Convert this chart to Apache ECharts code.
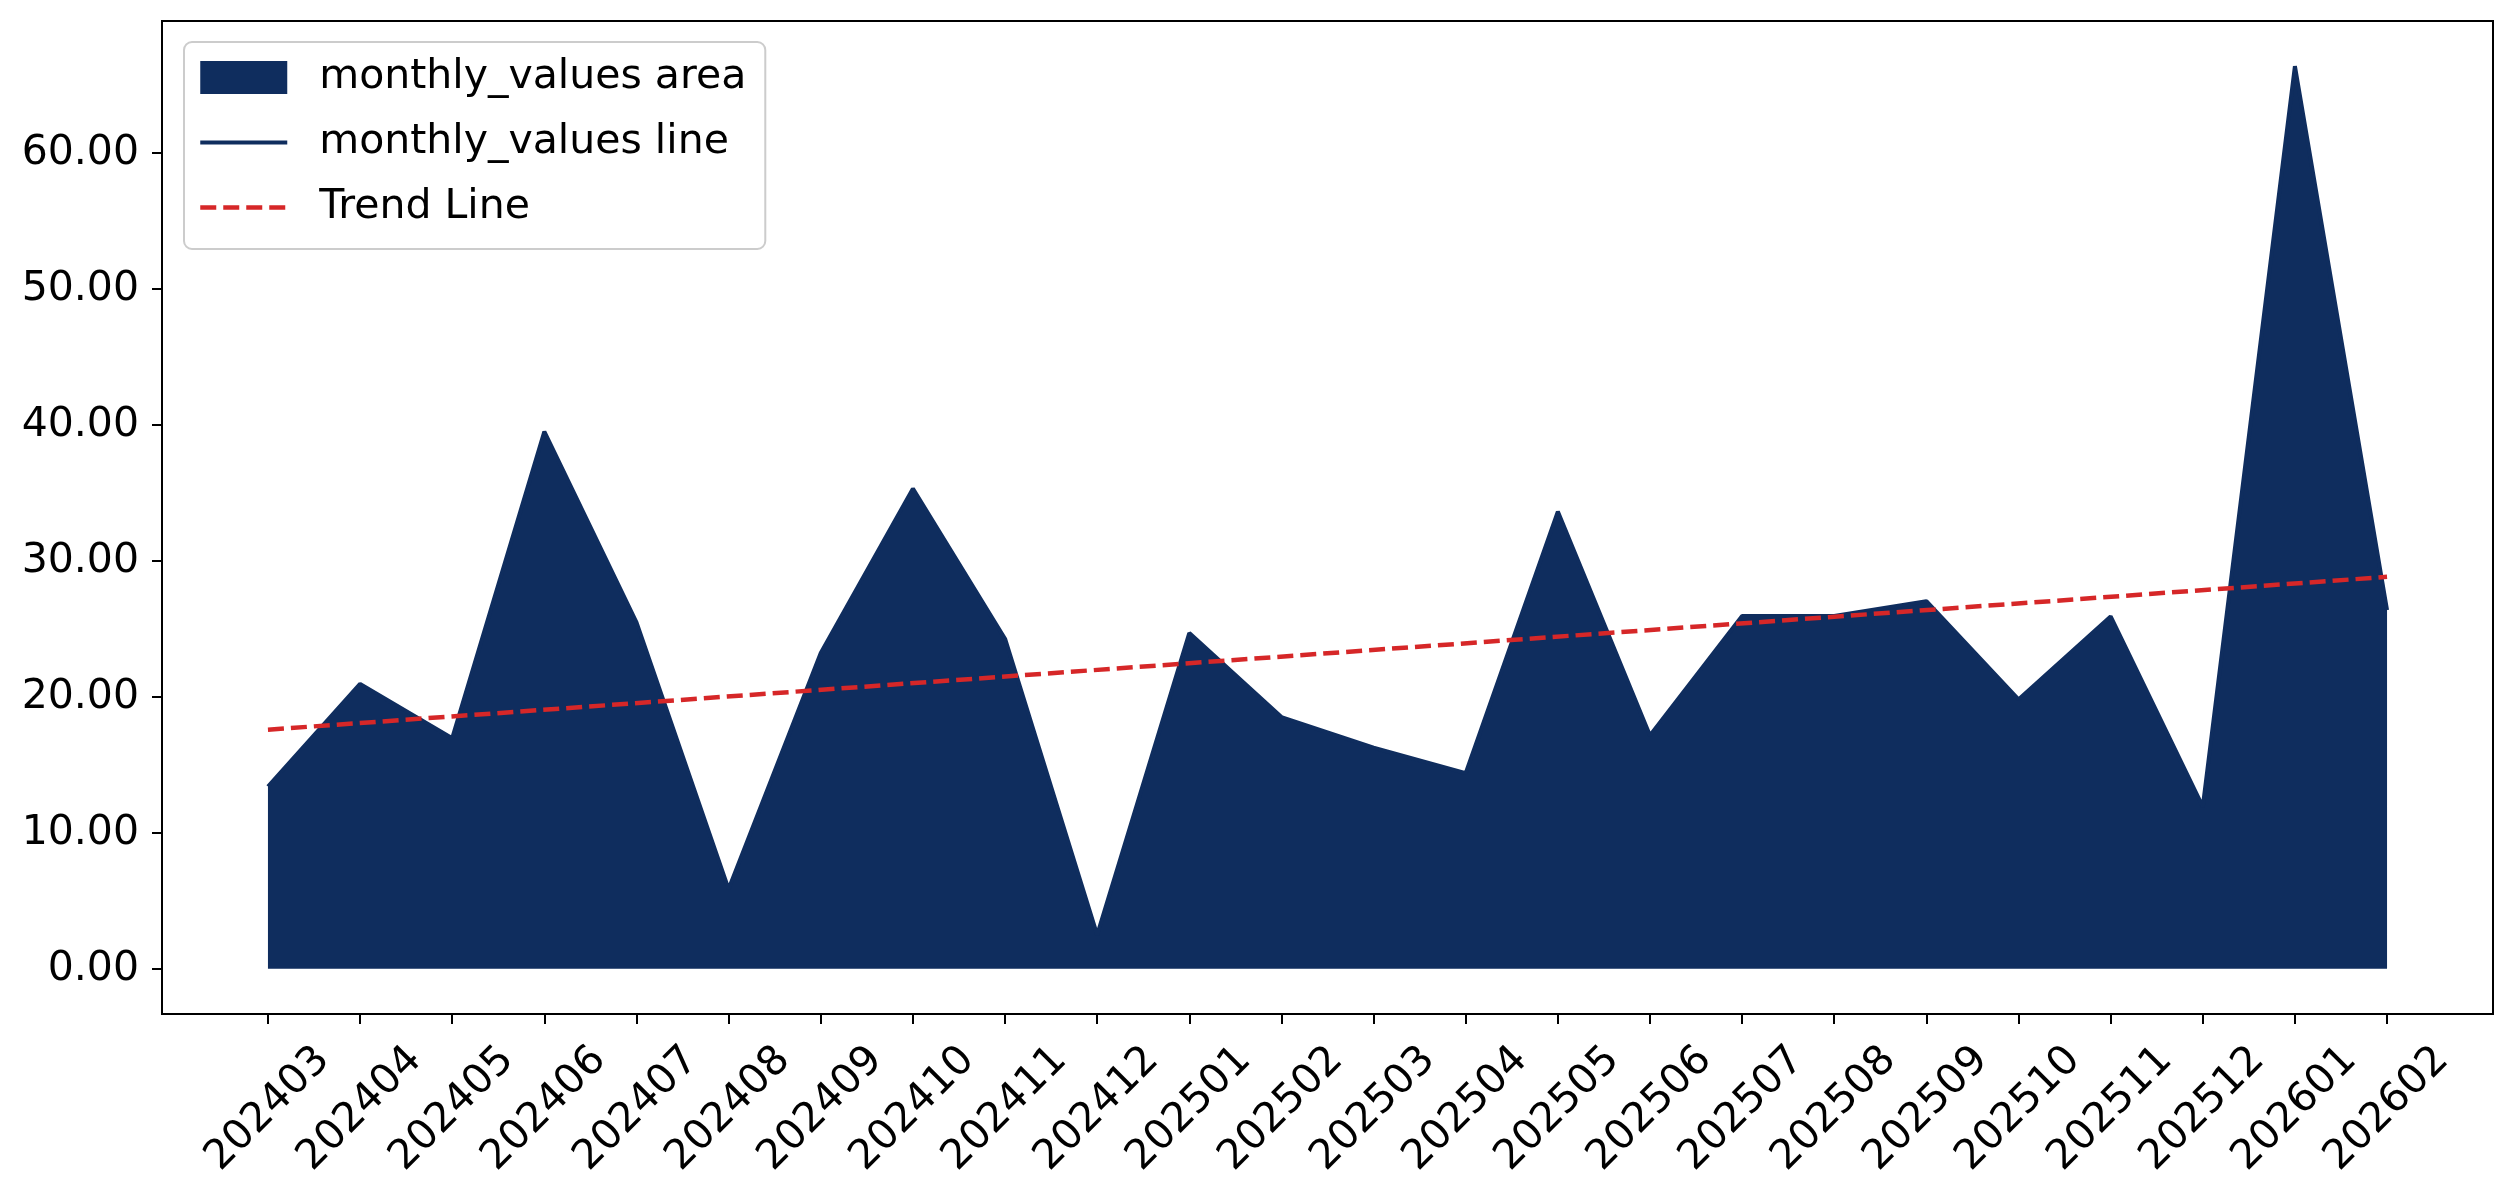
<!DOCTYPE html>
<html>
<head>
<meta charset="UTF-8">
<title>monthly_values</title>
<style>
  html, body { margin: 0; padding: 0; background: #fff; }
  #chart { width: 2516px; height: 1199px; }
</style>
</head>
<body>
<div id="chart"></div>
<script src="https://cdn.jsdelivr.net/npm/echarts@6/dist/echarts.min.js"></script>
<script>
var months = ['202403', '202404', '202405', '202406', '202407', '202408', '202409', '202410',
  '202411', '202412', '202501', '202502', '202503', '202504', '202505', '202506',
  '202507', '202508', '202509', '202510', '202511', '202512', '202601', '202602'];
var monthlyValues = [13.41, 20.96, 16.97, 39.51, 25.48, 5.87, 23.24, 35.32,
  24.28, 2.50, 24.70, 18.52, 16.27, 14.39, 33.63, 17.17,
  25.95, 25.95, 27.04, 19.82, 25.92, 11.93, 66.39, 26.39];
// trend line read at first and last month
var trendEnds = [17.59, 28.83];
var yTicks = [0, 10, 20, 30, 40, 50, 60];

var NAVY = '#0f2d5e';
var RED = '#d62728';
var FONT = 'DejaVu Sans';
var FS = 41;

var xIdx = months.map(function(m, i) { return i; });
var seriesData = monthlyValues.map(function(v, i) { return [i, v]; });
var trendData = [[0, trendEnds[0]], [months.length - 1, trendEnds[1]]];

var chart = echarts.init(document.getElementById('chart'));
var option = {
  animation: false,
  backgroundColor: '#fff',
  grid: {
    left: 162, right: 23, top: 21, bottom: 185,
    show: true, borderColor: '#000', borderWidth: 2
  },
  legend: {
    orient: 'vertical',
    left: 184, top: 42,
    padding: [15, 19, 21, 14],
    itemWidth: 87, itemHeight: 33, itemGap: 24,
    backgroundColor: 'rgba(255,255,255,0.8)',
    borderColor: '#cccccc', borderWidth: 2, borderRadius: 8,
    lineStyle: { width: 'inherit' },
    textStyle: { fontFamily: FONT, fontSize: FS, lineHeight: 41, color: '#000', padding: [0, 0, 0, 27] },
    data: [
      { name: 'monthly_values area', icon: 'rect', itemStyle: { color: NAVY } },
      { name: 'monthly_values line', itemStyle: { opacity: 0 } },
      { name: 'Trend Line', itemStyle: { opacity: 0 } }
    ]
  },
  xAxis: {
    type: 'value',
    min: -1.15, max: 24.15,
    splitLine: { show: false },
    axisLine: { show: true, onZero: false, lineStyle: { color: '#000', width: 2 } },
    axisTick: { show: true, customValues: xIdx, length: 10, lineStyle: { color: '#000', width: 2 } },
    axisLabel: {
      customValues: xIdx,
      rotate: 45, align: 'center', verticalAlign: 'middle', margin: 95,
      fontFamily: FONT, fontSize: FS, color: '#000',
      formatter: function(v) { return months[Math.round(v)] || ''; }
    }
  },
  yAxis: {
    type: 'value',
    min: -3.32, max: 69.71,
    splitLine: { show: false },
    axisLine: { show: true, onZero: false, lineStyle: { color: '#000', width: 2 } },
    axisTick: { show: true, customValues: yTicks, length: 10, lineStyle: { color: '#000', width: 2 } },
    axisLabel: {
      customValues: yTicks, margin: 23,
      fontFamily: FONT, fontSize: FS, color: '#000',
      formatter: function(v) { return v.toFixed(2); }
    }
  },
  series: [
    {
      name: 'monthly_values area',
      type: 'line',
      data: seriesData,
      symbol: 'none',
      lineStyle: { width: 0 },
      itemStyle: { color: NAVY },
      areaStyle: { color: NAVY, opacity: 1, origin: 'auto' },
      z: 2
    },
    {
      name: 'monthly_values line',
      type: 'line',
      data: seriesData,
      symbol: 'none',
      lineStyle: { color: NAVY, width: 4 },
      itemStyle: { color: NAVY },
      z: 3
    },
    {
      name: 'Trend Line',
      type: 'line',
      data: trendData,
      symbol: 'none',
      lineStyle: { color: RED, width: 4.5, type: [16, 7] },
      itemStyle: { color: RED },
      z: 4
    }
  ]
};
chart.setOption(option);
</script>
</body>
</html>
